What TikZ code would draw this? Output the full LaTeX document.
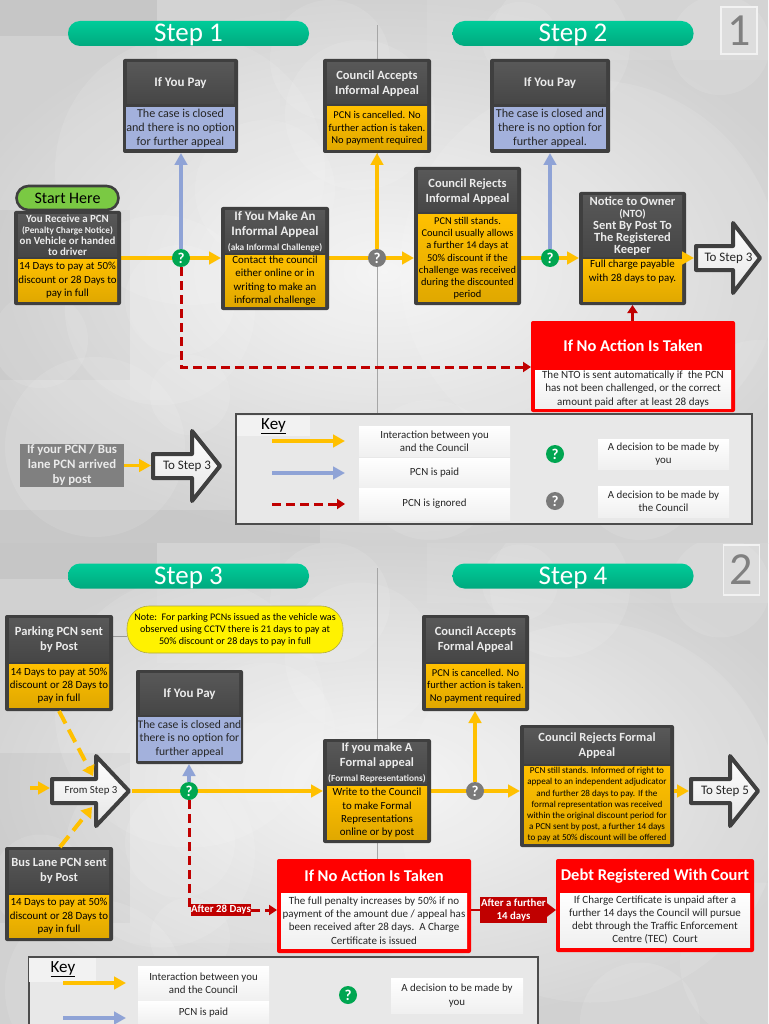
\documentclass[tikz,border=0pt]{standalone}
\usepackage{fontspec}
\setmainfont{Carlito}
\usetikzlibrary{arrows.meta,calc}
\pgfdeclarelayer{bg}
\pgfdeclarelayer{conn}
\pgfsetlayers{bg,conn,main}
\definecolor{framegray}{HTML}{3F3F3F}
\definecolor{hdrtop}{HTML}{585858}
\definecolor{hdrbot}{HTML}{464646}
\definecolor{amberT}{HTML}{FFC000}
\definecolor{amberB}{HTML}{E0A800}
\definecolor{bluebody}{HTML}{A3B1DC}
\definecolor{yline}{HTML}{FFC000}
\definecolor{bline}{HTML}{8FA3D6}
\definecolor{rline}{HTML}{C00000}
\definecolor{pillT}{HTML}{00CC99}
\definecolor{pillB}{HTML}{00A97E}
\definecolor{dgreen}{HTML}{00A651}
\definecolor{dgray}{HTML}{7A7A7A}
\definecolor{alertred}{HTML}{FF0000}
\definecolor{startgreen}{HTML}{7AC943}
\tikzset{
 framebox/.style={fill=framegray,rounded corners=2pt,inner sep=0pt,outer sep=0pt},
 hdrbox/.style={top color=hdrtop,bottom color=hdrbot,inner sep=0pt,outer sep=0pt,align=center,text=white!92!black,font=\fontsize{12.5}{15}\selectfont\bfseries},
 amber/.style={top color=amberT,bottom color=amberB,inner sep=0pt,outer sep=0pt,align=center,text=black,font=\fontsize{10.9}{13.2}\selectfont},
 bluebox/.style={fill=bluebody,inner sep=0pt,outer sep=0pt,align=center,text=black!85,font=\fontsize{12.1}{14}\selectfont},
 pill/.style={top color=pillT,bottom color=pillB,rounded corners=12pt,inner sep=0pt,minimum width=241pt,minimum height=25pt,text height=18.5pt,text depth=2.5pt,text=white,font=\fontsize{27}{30}\selectfont},
 alertframe/.style={fill=alertred,rounded corners=2pt,inner sep=0pt,outer sep=0pt,align=center,text=white,font=\fontsize{16.5}{18}\selectfont\bfseries},
 alertbody/.style={top color=white,bottom color=white!94!black,inner sep=0pt,outer sep=0pt,align=center,text=black!85,font=\fontsize{11}{13.2}\selectfont},
 decgreen/.style={circle,fill=dgreen,inner sep=0pt,minimum size=18pt,text=white,font=\fontsize{15}{15}\selectfont\bfseries},
 decgray/.style={circle,fill=dgray,inner sep=0pt,minimum size=18pt,text=white,font=\fontsize{15}{15}\selectfont\bfseries},
 yarrow/.style={draw=yline,line width=3.6pt,-{Triangle[length=12pt,width=12.5pt]}},
 barrow/.style={draw=bline,line width=3.6pt,-{Triangle[length=12pt,width=12.5pt]}},
 rdash/.style={draw=rline,line width=3pt,dash pattern=on 9pt off 5pt},
 rarrow/.style={rdash,-{Triangle[length=8pt,width=10pt]}},
 ydash/.style={draw=yline,line width=4pt,dash pattern=on 14pt off 7pt,-{Triangle[length=10pt,width=13pt]}},
 blockfill/.style={draw=framegray,line width=4pt,line join=round,top color=white,bottom color=white!90!black},
 blocktext/.style={inner sep=0pt,outer sep=0pt,text=black!85,font=\fontsize{13}{14}\selectfont},
 keypanel/.style={draw=black!70,line width=1.2pt,fill=white!91!black},
 keylabel/.style={top color=white,bottom color=white!94!black,inner sep=0pt,outer sep=0pt,align=center,text=black!85,font=\fontsize{10.9}{13.4}\selectfont},
 keyword/.style={inner sep=0pt,text=black,font=\fontsize{17}{18}\selectfont},
 keypatch/.style={fill=white!95!black,inner sep=0pt},
 redlabel/.style={fill=rline,inner sep=0pt,outer sep=0pt,align=center,text=white,font=\fontsize{10.8}{13}\selectfont\bfseries},
 notebox/.style={fill=yellow,draw=black!35!yellow,line width=.6pt,rounded corners=22pt,inner sep=0pt,outer sep=0pt,align=center,text=black,font=\fontsize{10.1}{12}\selectfont},
 postbox/.style={fill=black!50,inner sep=0pt,outer sep=0pt,align=center,text=white!92!black,font=\fontsize{12.8}{15}\selectfont\bfseries},
 pagenum/.style={draw=white!95!black,line width=1.6pt,fill=white,fill opacity=.15,text opacity=1,inner sep=0pt,text=black!50,font=\fontsize{46}{46}\selectfont},
 startpill/.style={fill=startgreen,draw=framegray,line width=2.6pt,rounded corners=12pt,inner sep=0pt,text=black,font=\fontsize{16}{18}\selectfont},
 cancelbody/.style={amber,font=\fontsize{10.5}{12.5}\selectfont},
 rejectbody/.style={amber,font=\fontsize{10.4}{12.3}\selectfont},
 smallbody/.style={amber,font=\fontsize{9.1}{11.1}\selectfont},
 bluetight/.style={bluebox,font=\fontsize{11.6}{13.6}\selectfont},
}
\newcommand{\smalltxt}{\fontsize{9.3}{11}\selectfont}
% name x0 y0 x1 y1 ybody header body bodystyle
\newcommand{\flowbox}[9]{%
 \pgfmathsetmacro{\fbW}{#4-#2}\pgfmathsetmacro{\fbH}{#5-#3}%
 \node[framebox,minimum width=\fbW pt,minimum height=\fbH pt] (#1) at ({(#2+#4)/2},{(#3+#5)/2}) {};
 \pgfmathsetmacro{\fbW}{#4-#2-8}\pgfmathsetmacro{\fbH}{#6-#3-6.5}%
 \node[hdrbox,minimum width=\fbW pt,minimum height=\fbH pt] (#1-h) at ({(#2+#4)/2},{(#3+3.5+#6-3)/2}) {#7};
 \pgfmathsetmacro{\fbH}{#5-#6-3.5}%
 \node[#9,minimum width=\fbW pt,minimum height=\fbH pt] (#1-b) at ({(#2+#4)/2},{(#6+#5-3.5)/2}) {#8};
}
% name x0 y0 x1 y1 ybody bodybottom title body
\newcommand{\alertbox}[9]{%
 \pgfmathsetmacro{\fbW}{#4-#2}\pgfmathsetmacro{\fbH}{#5-#3}%
 \node[alertframe,minimum width=\fbW pt,minimum height=\fbH pt] (#1) at ({(#2+#4)/2},{(#3+#5)/2}) {};
 \node[alertframe,fill=none,inner sep=0pt] (#1-h) at ({(#2+#4)/2},{(#3+#6)/2}) {#8};
 \pgfmathsetmacro{\fbW}{#4-#2-8}\pgfmathsetmacro{\fbH}{#7-#6}%
 \node[alertbody,minimum width=\fbW pt,minimum height=\fbH pt] (#1-b) at ({(#2+#4)/2},{(#6+#7)/2}) {#9};
}
% name x0 xbase xtip yc halftail halfhead text
\newcommand{\blockarrow}[8]{%
 \draw[blockfill] ({#2+2},{#5-#6+2}) -- ({#3+2},{#5-#6+2}) -- ({#3+2},{#5-#7+4}) -- ({#4-3},#5) -- ({#3+2},{#5+#7-4}) -- ({#3+2},{#5+#6-2}) -- ({#2+2},{#5+#6-2}) -- cycle;
 \pgfmathsetmacro{\fbW}{#4-#2}%
 \node[blocktext,minimum width=\fbW pt,minimum height=24pt] (#1) at ({(#2+#4)/2},#5) {#8};
}
% name x0 y0 x1 y1 text
\newcommand{\keylab}[6]{%
 \pgfmathsetmacro{\fbW}{#4-#2}\pgfmathsetmacro{\fbH}{#5-#3}%
 \node[keylabel,minimum width=\fbW pt,minimum height=\fbH pt] (#1) at ({(#2+#4)/2},{(#3+#5)/2}) {#6};
}
% decorative backdrop of one page
\newcommand{\pageback}[3]{%
 \begin{scope}
 \clip (0,#1) rectangle (768,#2);
 \path[inner color=white!96!black,outer color=white!82!black] (-60,#1) rectangle (828,#2);
 \begin{scope}[yshift=#3]
 \fill[black,opacity=.05] (0,0) rectangle (157,36);
 \fill[black,opacity=.035] (0,210) rectangle (130,380);
 \fill[white,opacity=.06] (157,0) rectangle (280,120);
 \fill[white,opacity=.06] (130,180) rectangle (377,400);
 \fill[black,opacity=.04] (0,510) rectangle (320,545);
 \fill[white,opacity=.07] (427,0) rectangle (768,60);
 \foreach \cx/\cy/\cr in {190/170/135,330/60/60,360/115/75,265/190/70,180/300/55,95/447/90,160/310/95,190/395/40,
   560/45/70,520/40/38,720/45/50,590/270/190,40/340/48,640/480/60,430/470/70,760/420/80}{
   \fill[white,opacity=.10] (\cx,\cy) circle (\cr);
 }
 \end{scope}
 \end{scope}
}
\begin{document}
\begin{tikzpicture}[x=1pt,y=-1pt]
\useasboundingbox (0,0) rectangle (768,1024);
\begin{pgfonlayer}{bg}
 \pageback{0}{543}{0pt}
 \pageback{543}{1024}{-542.5pt}
 \draw[black!35,line width=.9pt] (377,25) -- (377,414);
 \draw[black!35,line width=.9pt] (377,568) -- (377,859);
\end{pgfonlayer}

%%% ---------- page 1 ----------
\node[pill] (step1) at (188.5,33.5) {Step 1};
\node[pill] (step2) at (573,33.5) {Step 2};
\node[pagenum,minimum width=36pt,minimum height=47pt] (num1) at (739,30.5) {1};

\begin{scope}[hdrbox/.append style={font=\fontsize{13}{15}\selectfont\bfseries}]
\flowbox{pay1}{123}{59}{238}{153}{107}{If You Pay}{The case is closed\\and there is no option\\for further appeal}{bluebox}
\flowbox{pay2}{490}{59}{610}{153}{107}{If You Pay}{The case is closed and\\there is no option for\\further appeal.}{bluebox}
\flowbox{appeal1}{221}{207}{329}{310}{255}{If You Make An\\Informal Appeal\\{\smalltxt (aka Informal Challenge)}}{Contact the council\\either online or in\\writing to make an\\informal challenge}{amber}
\end{scope}
\flowbox{accept1}{323}{59}{431}{153}{107}{Council Accepts\\Informal Appeal}{PCN is cancelled. No\\further action is taken.\\No payment required}{cancelbody}
\node[startpill,minimum width=102pt,minimum height=24pt] (start) at (67.5,198) {Start Here};
\begin{scope}[hdrbox/.append style={font=\fontsize{10.9}{10.9}\selectfont\bfseries}]
\flowbox{pcn}{14}{211}{121}{305}{259}{You Receive a PCN\\{\smalltxt (Penalty Charge Notice)}\\on Vehicle or handed\\to driver}{14 Days to pay at 50\%\\discount or 28 Days to\\pay in full}{amber}
\end{scope}
\flowbox{reject1}{414}{167}{521}{305}{215}{Council Rejects\\Informal Appeal}{PCN still stands.\\Council usually allows\\a further 14 days at\\50\% discount if the\\challenge was received\\during the discounted\\period}{rejectbody}
\begin{scope}[hdrbox/.append style={font=\fontsize{12.5}{12}\selectfont\bfseries}]
\flowbox{nto}{579}{192}{686}{305}{259}{Notice to Owner\\{\fontsize{11}{11}\selectfont (NTO)}\\Sent By Post To\\The Registered\\Keeper}{Full charge payable\\with 28 days to pay.\\[6pt]}{amber}
\end{scope}
\alertbox{noact1}{531}{321}{735}{412}{370}{408}{If No Action Is Taken}{The NTO is sent automatically if\ \ the PCN\\has not been challenged, or the correct\\amount paid after at least 28 days}
\blockarrow{tostep3a}{694}{731}{763}{258}{14}{39}{To Step 3}

\node[decgreen] (d1) at (181,258) {?};
\node[decgray] (d2) at (377,258) {?};
\node[decgreen] (d3) at (550,258) {?};
\coordinate (bend1) at (181,367);

\node[postbox,minimum width=104pt,minimum height=43pt] (post) at (72,465.5) {If your PCN / Bus\\lane PCN arrived\\by post};
\blockarrow{tostep3b}{151}{190}{223}{466}{14}{39}{To Step 3}

\node[keypanel,inner sep=0pt,minimum width=516pt,minimum height=110pt] (key1) at (494,469) {};
\node[keypatch,minimum width=73pt,minimum height=20pt] (key1w) at (273,426) {};
\node[keyword] (key1t) at (273.5,426) {\underline{Key}};
\coordinate (k1ya) at (272,441);\coordinate (k1yb) at (345,441);
\coordinate (k1ba) at (272,473);\coordinate (k1bb) at (345,473);
\coordinate (k1ra) at (272,504);\coordinate (k1rb) at (345,504);
\keylab{k1l1}{359}{426}{510}{456}{Interaction between you\\and the Council}
\keylab{k1l2}{359}{458}{510}{488}{PCN is paid}
\keylab{k1l3}{359}{488}{510}{520}{PCN is ignored}
\node[decgreen] (k1g) at (555,454) {?};
\node[decgray] (k1q) at (555,501) {?};
\keylab{k1r1}{598}{439}{729}{469}{A decision to be made by\\you}
\keylab{k1r2}{598}{486}{729}{517}{A decision to be made by\\the Council}

%%% ---------- page 2 ----------
\node[pill] (step3) at (188.5,576) {Step 3};
\node[pill] (step4) at (573,576) {Step 4};
\node[pagenum,minimum width=36pt,minimum height=50pt] (num2) at (741.5,570) {2};

\node[notebox,minimum width=216pt,minimum height=47pt] (note) at (235,629.5) {Note:\ \ For parking PCNs issued as the vehicle was\\observed using CCTV there is 21 days to pay at\\50\% discount or 28 days to pay in full};
\flowbox{parking}{5}{615}{113}{711}{664}{Parking PCN sent\\by Post}{14 Days to pay at 50\%\\discount or 28 Days to\\pay in full}{amber}
\begin{scope}[hdrbox/.append style={font=\fontsize{13}{15}\selectfont\bfseries}]
\flowbox{pay3}{136}{670}{243}{764}{717}{If You Pay}{The case is closed and\\there is no option for\\further appeal}{bluetight}
\end{scope}
\flowbox{bus}{5}{847}{113}{941}{895}{Bus Lane PCN sent\\by Post}{14 Days to pay at 50\%\\discount or 28 Days to\\pay in full}{amber}
\begin{scope}[blocktext/.append style={font=\fontsize{10.8}{13}\selectfont}]
\blockarrow{from3}{50}{94}{132}{791}{14}{39}{From Step 3}
\end{scope}
\flowbox{formal}{323}{739}{431}{843}{786}{If you make A\\Formal appeal\\{\smalltxt (Formal Representations)}}{Write to the Council\\to make Formal\\Representations\\online or by post}{amber}
\flowbox{accept2}{422}{615}{529}{711}{664}{Council Accepts\\Formal Appeal}{PCN is cancelled. No\\further action is taken.\\No payment required}{cancelbody}
\flowbox{reject2}{520}{725}{674}{847}{766}{Council Rejects Formal\\Appeal}{PCN still stands. Informed of right to\\appeal to an independent adjudicator\\and further 28 days to pay. If the\\formal representation was received\\within the original discount period for\\a PCN sent by post, a further 14 days\\to pay at 50\% discount will be offered}{smallbody}
\blockarrow{tostep5}{689}{728}{761}{791}{14}{39}{To Step 5}
\alertbox{noact2}{277}{859}{471}{953}{893}{948}{If No Action Is Taken}{The full penalty increases by 50\% if no\\payment of the amount due / appeal has\\been received after 28 days.\ \ A Charge\\Certificate is issued}
\alertbox{debt}{556}{859}{754}{952}{893}{947}{Debt Registered With Court}{If Charge Certificate is unpaid after a\\further 14 days the Council will pursue\\debt through the Traffic Enforcement\\Centre (TEC)\ \ Court}
\node[redlabel,minimum width=60pt,minimum height=12pt] (a28) at (221,910) {After 28 Days};
\node[redlabel,minimum width=67pt,minimum height=26pt] (a14) at (513.5,910) {After a further\\14 days};
\node[decgreen] (d4) at (189,791) {?};
\node[decgray] (d5) at (475,791) {?};
\coordinate (sideIn) at (30,788);
\coordinate (sideEnd) at (50,788);
\coordinate (parkEnd) at (93,776);
\coordinate (busEnd) at (92,807);
\coordinate (busStart) at (60,847);

% key 2 runs off the bottom of the page
\fill[white!91!black] (29,957) rectangle (538,1024);
\draw[black!70,line width=1.2pt] (29,1024) -- (29,957) -- (538,957) -- (538,1024);
\node[keypatch,minimum width=67pt,minimum height=24pt] (key2w) at (62.5,970) {};
\node[keyword] (key2t) at (63,969) {\underline{Key}};
\coordinate (k2ya) at (63,983);\coordinate (k2yb) at (126,983);
\coordinate (k2ba) at (63,1018);\coordinate (k2bb) at (126,1018);
\keylab{k2l1}{138}{966}{269}{1001}{Interaction between you\\and the Council}
\keylab{k2l2}{138}{1001}{269}{1024}{PCN is paid}
\node[decgreen] (k2g) at (348,995) {?};
\keylab{k2r1}{391}{978}{523}{1013}{A decision to be made by\\you}

%%% ---------- connectors ----------
\begin{pgfonlayer}{conn}
 \draw[yarrow] (pcn.east |- d1) -- (appeal1.west |- d1);
 \draw[yarrow] (appeal1.east |- d2) -- (reject1.west |- d2);
 \draw[yarrow] (reject1.east |- d3) -- (nto.west |- d3);
 \draw[barrow] (d1) -- (pay1.south -| d1);
 \draw[yarrow] (d2) -- (accept1.south -| d2);
 \draw[barrow] (d3) -- (pay2.south -| d3);
 \draw[rarrow] (d1) -- (bend1) -- (noact1.west |- bend1);
 \draw[draw=rline,line width=2.6pt,-{Triangle[length=8pt,width=10pt]}] (noact1.north -| nto.south) -- (nto.south);
 \draw[yarrow] (from3.east) -- (formal.west |- from3.east);
 \draw[barrow] (d4) -- (pay3.south -| d4);
 \draw[yarrow] (d5) -- (accept2.south -| d5);
 \draw[yarrow] (formal.east |- d5) -- (reject2.west |- d5);
 \draw[rdash] (d4) -- (d4 |- a28.west) -- (a28.west);
 \draw[rarrow] (a28.east) -- (noact2.west |- a28.east);
 \draw[draw=rline,line width=2.6pt] (noact2.east |- a14.west) -- (a14.west);
 \draw[draw=black!40,line width=.6pt] (parking.east |- 0,636) -- (note.west |- 0,636);
\end{pgfonlayer}
\draw[yarrow] (nto.east |- tostep3a) -- (tostep3a.west);
\draw[yarrow] (post.east) -- (tostep3b.west |- post.east);
\draw[yarrow] (sideIn) -- (sideEnd);
\draw[ydash] (parking.south) -- (parkEnd);
\draw[ydash] (busStart) -- (busEnd);
\draw[yarrow] (reject2.east |- tostep5) -- (tostep5.west);
\draw[draw=rline,line width=2.6pt,-{Triangle[length=9pt,width=13pt]}] (a14.east) -- (debt.west |- a14.east);
\draw[yarrow] (k1ya) -- (k1yb);
\draw[barrow] (k1ba) -- (k1bb);
\draw[rarrow] (k1ra) -- (k1rb);
\draw[yarrow] (k2ya) -- (k2yb);
\draw[barrow] (k2ba) -- (k2bb);
\end{tikzpicture}
\end{document}
